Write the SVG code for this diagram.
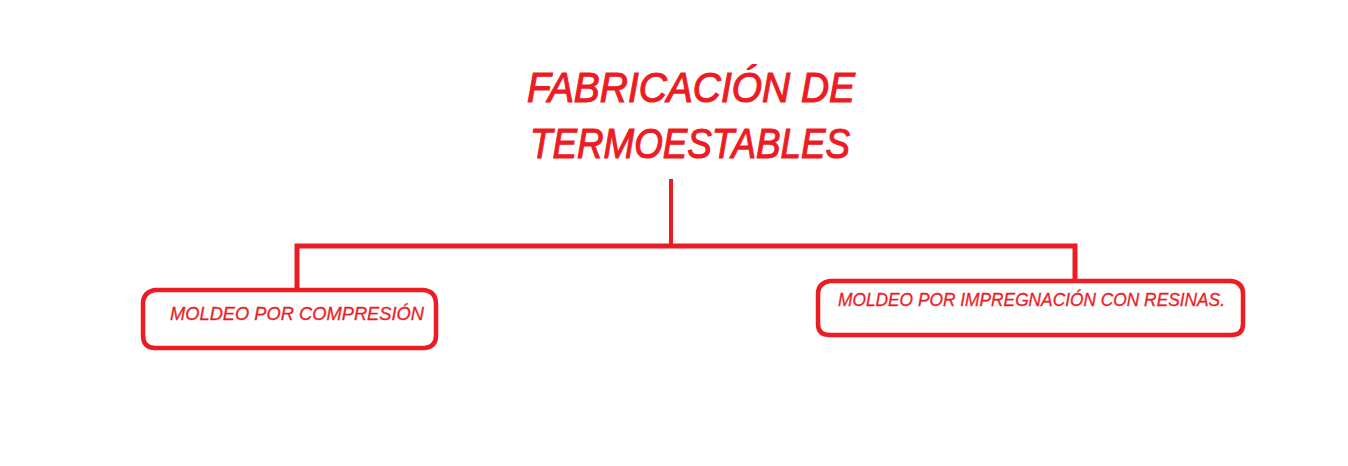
<svg xmlns="http://www.w3.org/2000/svg" width="1348" height="466" viewBox="0 0 1348 466">
<style>
.t{font-family:"Liberation Sans","DejaVu Sans",sans-serif;font-style:italic;fill:#ED1C24;stroke:#ED1C24}
.ln{stroke:#ED1C24;fill:none;stroke-linecap:square}
.box{stroke:#ED1C24;stroke-width:4.5;fill:#fff}
</style>
<rect width="1348" height="466" fill="#fff"/>
<g id="connectors">
<path class="ln" stroke-width="4" d="M671 181V244"/>
<path class="ln" stroke-width="5" d="M297 289V246H1075V279"/>
</g>
<g id="title">
<text class="t" x="527" y="102" font-size="43" stroke-width="1.2" textLength="328" lengthAdjust="spacingAndGlyphs">FABRICACIÓN DE</text>
<text class="t" x="530" y="158" font-size="43" stroke-width="1.2" textLength="320" lengthAdjust="spacingAndGlyphs">TERMOESTABLES</text>
</g>
<g id="node-compresion">
<path class="box" d="M155 290H423Q436 291 436 304V335Q436 348 423 348H155Q143 348 143 335V304Q143 292 155 290Z"/>
<text class="t" x="170" y="320" font-size="19" stroke-width="0.3" textLength="254" lengthAdjust="spacingAndGlyphs">MOLDEO POR COMPRESIÓN</text>
</g>
<g id="node-impregnacion">
<path class="box" d="M830 281H1231Q1243 282 1243 294V324Q1243 335 1231 335H830Q818 335 818 324V294Q818 283 830 281Z"/>
<text class="t" x="838" y="306" font-size="18" stroke-width="0.3" textLength="387" lengthAdjust="spacingAndGlyphs">MOLDEO POR IMPREGNACIÓN CON RESINAS.</text>
</g>
</svg>
